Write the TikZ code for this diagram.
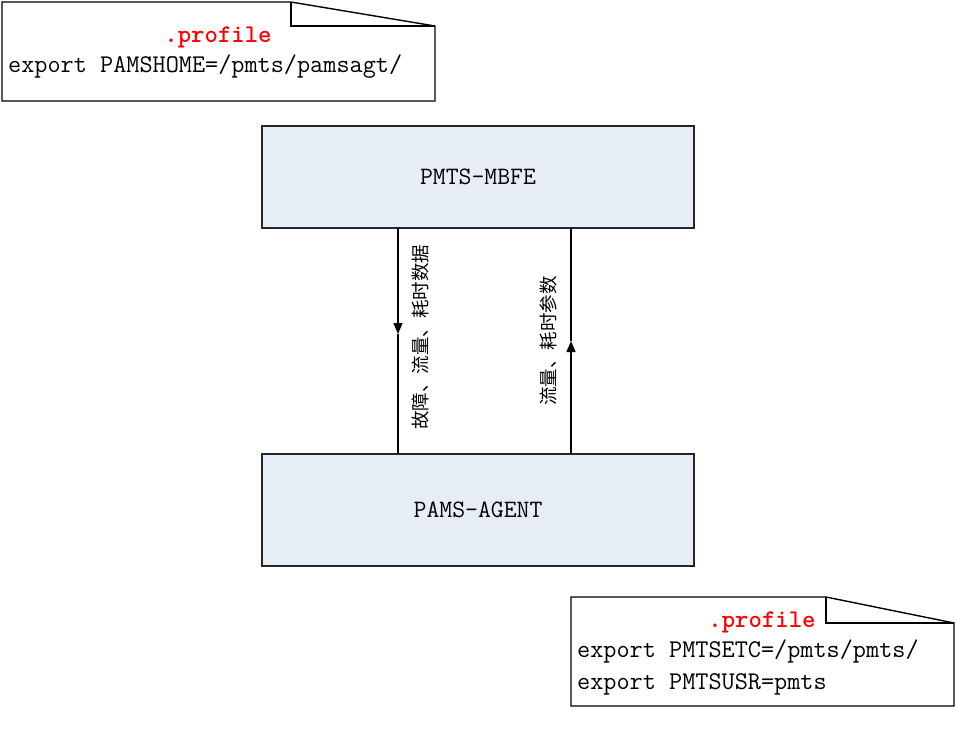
\documentclass[tikz,border=0pt]{standalone}
\usepackage{fontspec}
\newfontfamily\cjk{Noto Sans CJK SC}
\usetikzlibrary{arrows.meta}
\begin{document}
\begin{tikzpicture}[x=1pt,y=-1pt,
  blk/.style={draw=black!85,line width=1.4pt,fill={rgb,255:red,230;green,237;blue,247}},
  mono/.style={font=\ttfamily\fontsize{25.5}{25.5}\selectfont,inner sep=0pt,anchor=base west},
  red/.style={mono,text=red,font=\ttfamily\bfseries\fontsize{25.5}{25.5}\selectfont,anchor=base},
  cn/.style={font=\cjk\fontsize{18.5}{18.5}\selectfont,rotate=90,inner sep=0pt},
  conn/.style={line width=1.4pt,-{Triangle[length=11pt,width=9pt]}}]
\useasboundingbox (0,0) rectangle (957,729);
% note 1
\draw[line width=1.4pt] (2,2) -- (291,2) -- (435,26) -- (435,101) -- (2,101) -- cycle;
\draw[line width=1.4pt] (291,2) -- (291,26) -- (435,26);
\node[red] (p1) at (218,42) {.profile};
\node[mono] (e1) at (8,72) {export PAMSHOME=/pmts/pamsagt/};
% boxes
\node[blk,minimum width=432pt,minimum height=102pt,font=\ttfamily\fontsize{25}{25}\selectfont] (mbfe) at (478,177) {PMTS-MBFE};
\node[blk,minimum width=432pt,minimum height=112pt,font=\ttfamily\fontsize{25}{25}\selectfont] (agent) at (478,510) {PAMS-AGENT};
\coordinate (l1) at (398,228); \coordinate (l2) at (398,334); \coordinate (l3) at (398,454);
\coordinate (r1) at (571,454); \coordinate (r2) at (571,341); \coordinate (r3) at (571,228);
\draw[conn] (l1) -- (l2); \draw[line width=1.4pt] (l2) -- (l3);
\draw[conn] (r1) -- (r2); \draw[line width=1.4pt] (r2) -- (r3);
\node[cn] (lt) at (420,337) {故障、流量、耗时数据};
\node[cn] (rt) at (548,341) {流量、耗时参数};
% note 2
\draw[line width=1.4pt] (571,597) -- (826,597) -- (954,623) -- (954,706) -- (571,706) -- cycle;
\draw[line width=1.4pt] (826,597) -- (826,623) -- (954,623);
\node[red] (p2) at (762,627) {.profile};
\node[mono] (e2) at (577,657) {export PMTSETC=/pmts/pmts/};
\node[mono] (e3) at (577,689) {export PMTSUSR=pmts};
\end{tikzpicture}
\end{document}
